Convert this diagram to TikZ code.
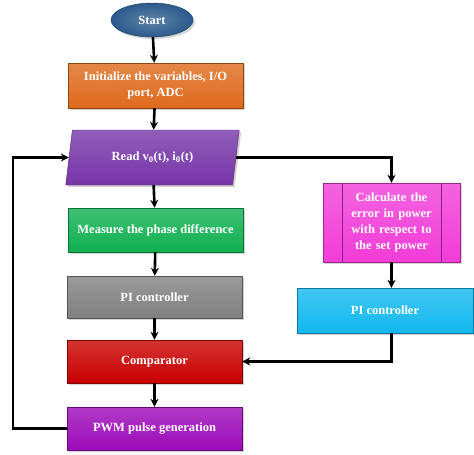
\documentclass[tikz,border=0pt]{standalone}
\usepackage{fontspec}
\setmainfont{Liberation Serif}
\usepackage{xcolor}
\definecolor{flowBlue}{HTML}{2A5A8C}
\definecolor{flowOrange}{HTML}{DE6A1C}
\definecolor{flowViolet}{HTML}{7535A8}
\definecolor{flowGreen}{HTML}{10B050}
\definecolor{flowGray}{HTML}{808080}
\definecolor{flowRed}{HTML}{C80000}
\definecolor{flowPurple}{HTML}{9C0AB8}
\definecolor{flowPink}{HTML}{F23CD8}
\definecolor{flowCyan}{HTML}{12B8EE}
\usepackage{tikz}
\usetikzlibrary{arrows.meta, positioning, shapes.geometric, shadows}

\begin{document}
\begin{tikzpicture}[
		x=1pt, y=-1pt,
		box/.style={
			draw=#1!65!black,
			top color=#1!80!white,
			bottom color=#1,
			drop shadow={opacity=0.35, shadow xshift=2pt, shadow yshift=-2pt},
			minimum width=175pt,
			minimum height=43pt,
			inner sep=2pt,
			align=center,
			text=white,
			font=\bfseries\fontsize{12.5}{16}\selectfont
		},
		arrow/.style={-{Stealth[length=8pt, width=8pt]}, line width=2.6pt}
		]
		
		\useasboundingbox (0,0) rectangle (474,455);
		
		\node[box=flowBlue, ellipse, minimum width=82pt, minimum height=34pt, inner color=flowBlue!75!white, outer color=flowBlue] (start) at (152,20) {Start};
		\node[box=flowOrange, minimum height=45pt] (init) at (155.5,85.5) {Initialize the variables, I/O\\port, ADC};
		\node[box=flowViolet, trapezium, trapezium left angle=77, trapezium right angle=103, trapezium stretches=true, minimum height=55pt] (read) at (152.5,157.5) {Read v\textsubscript{0}(t), i\textsubscript{0}(t)};
		\node[box=flowGreen, minimum height=44pt] (measure) at (155.5,230) {Measure the phase difference};
		\node[box=flowGray, minimum height=42pt] (pione) at (154.5,297) {PI controller};
		\node[box=flowRed] (comp) at (154.5,361.5) {Comparator};
		\node[box=flowPurple] (pwm) at (154.5,428.5) {PWM pulse generation};
		\node[box=flowPink, minimum width=137pt, minimum height=79pt, text width=100pt,
			path picture={
				\draw[flowPink!55!black] ([xshift=19pt]path picture bounding box.north west) -- ([xshift=19pt]path picture bounding box.south west);
				\draw[flowPink!55!black] ([xshift=-19pt]path picture bounding box.north east) -- ([xshift=-19pt]path picture bounding box.south east);
			}] (calc) at (391.5,222.5) {Calculate the\\error in power\\with respect to\\the set power};
		\node[box=flowCyan, minimum width=176pt, minimum height=45pt] (pitwo) at (385,310.5) {PI controller};
		
		\draw[arrow] (start) -- (init);
		\draw[arrow] (init) -- (read);
		\draw[arrow] (read) -- (measure);
		\draw[arrow] (measure) -- (pione);
		\draw[arrow] (pione) -- (comp);
		\draw[arrow] (comp) -- (pwm);
		\draw[arrow] (read) -| (calc);
		\draw[arrow] (calc) -- (calc |- pitwo.north);
		\draw[arrow] (pitwo.south -| calc) |- (comp);
		\draw[arrow] (pwm.west) -- ++(-54,0) |- (read);
		
	\end{tikzpicture}
\end{document}
